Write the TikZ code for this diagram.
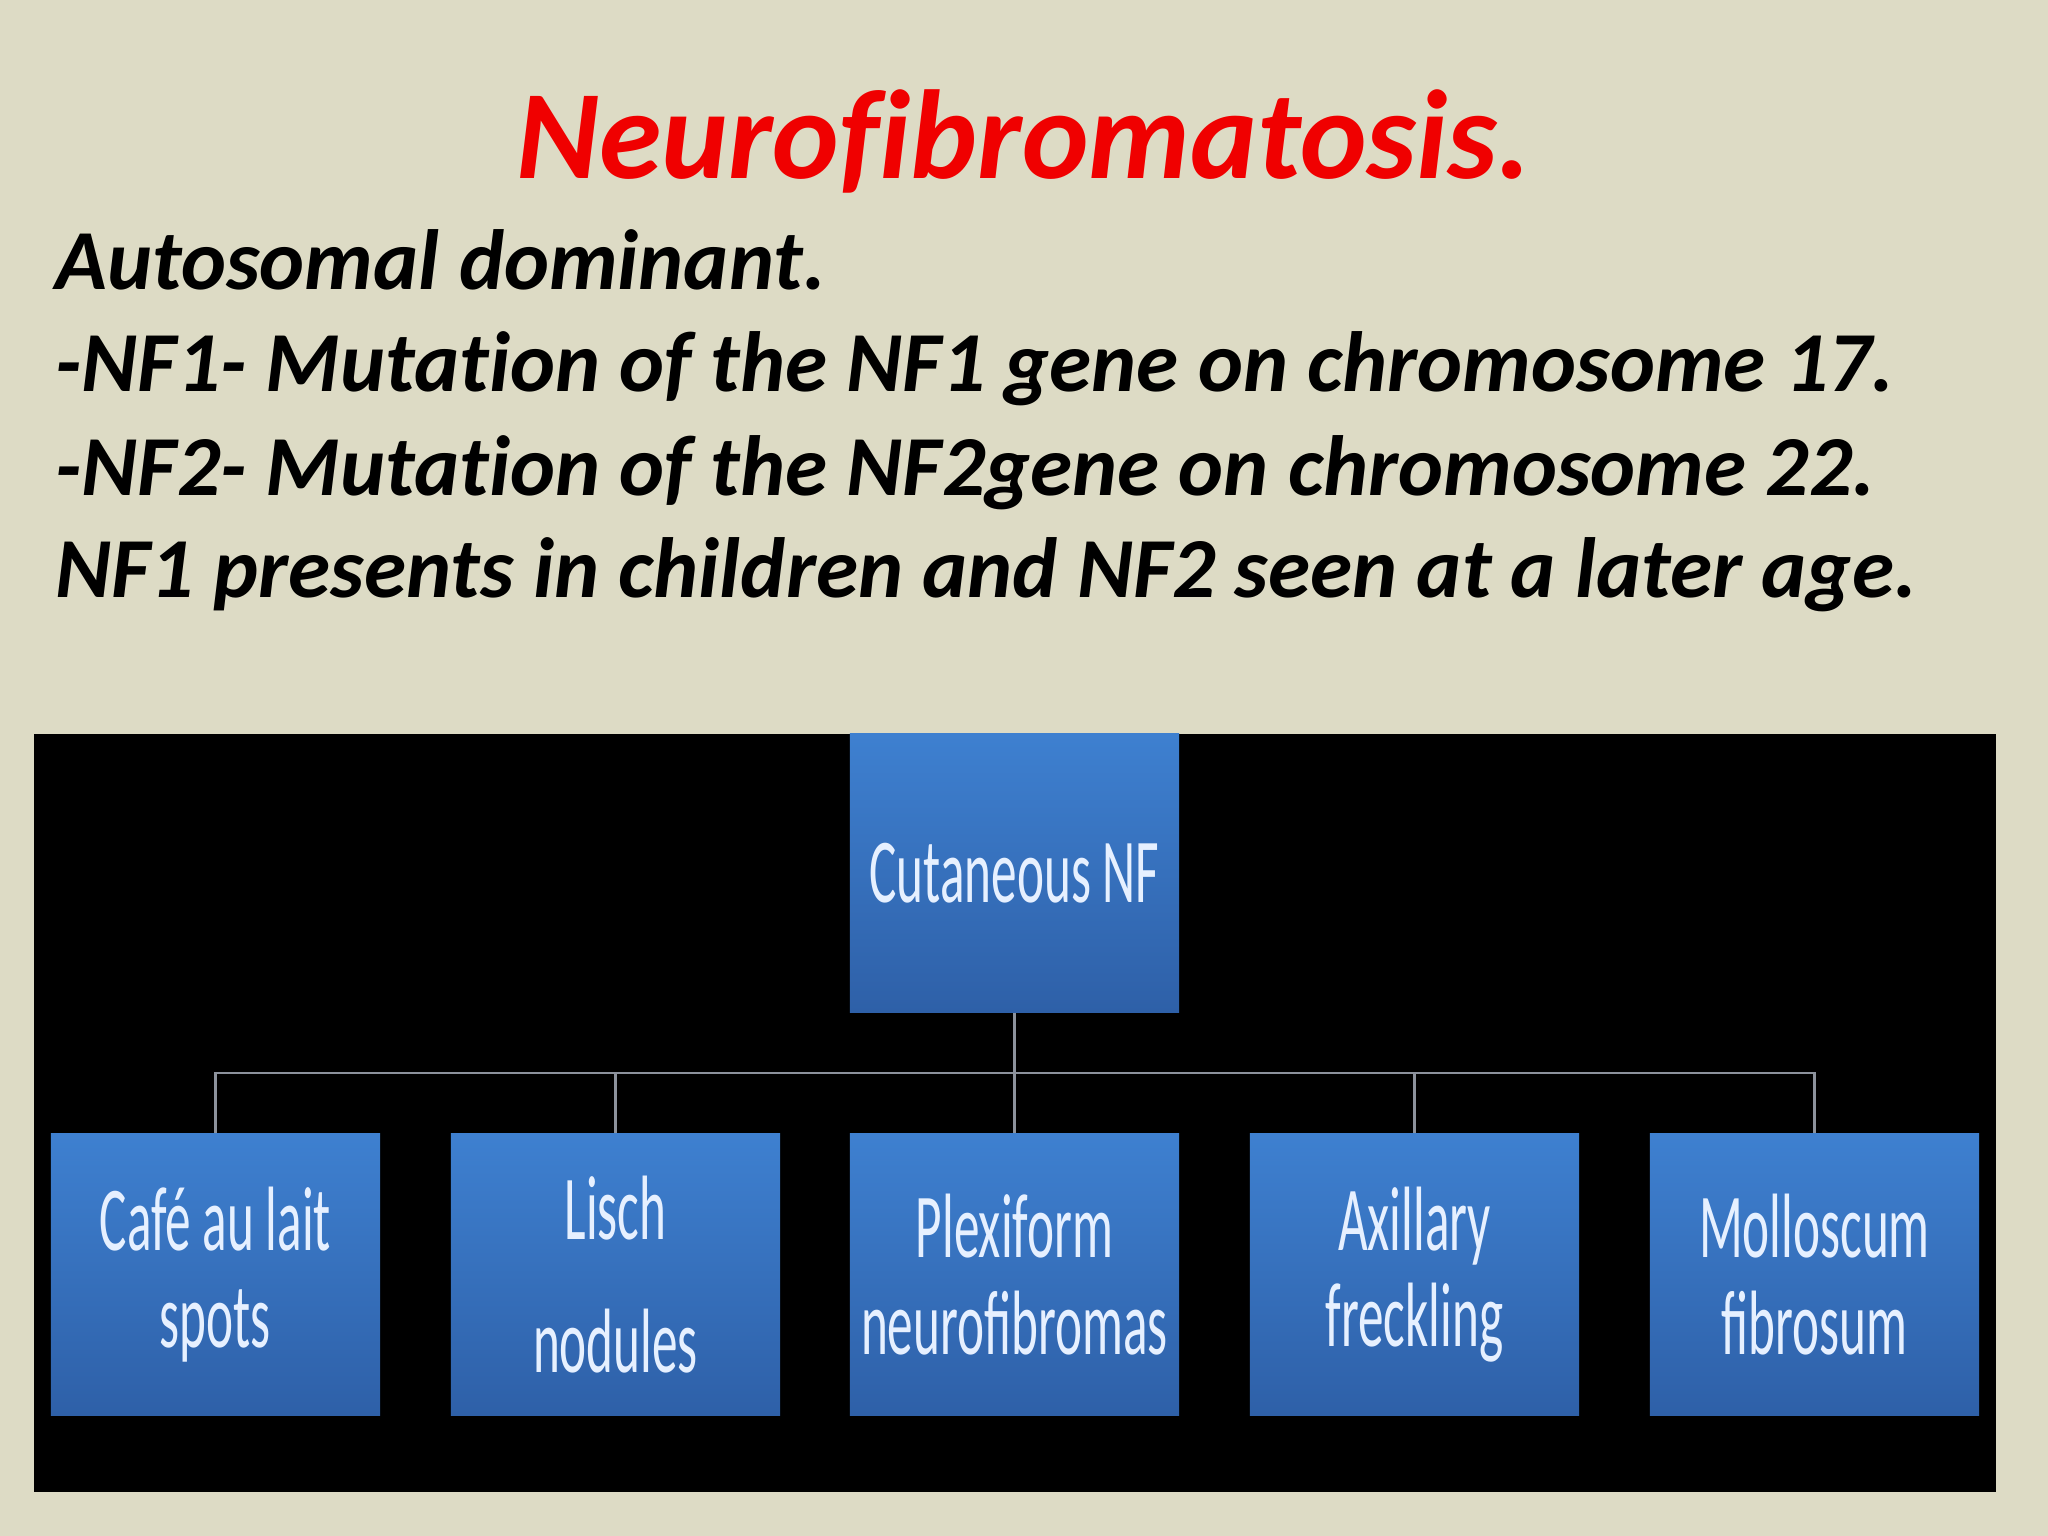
\documentclass[tikz,border=0pt]{standalone}
\usepackage{fontspec}
\setmainfont[Ligatures=NoCommon]{Carlito}
\newfontfamily\boxfont[FakeStretch=0.56]{Carlito}
\usepackage{tikz}
\usetikzlibrary{calc}

\definecolor{slidebg}{RGB}{221,219,197}
\definecolor{titlered}{RGB}{240,0,0}
\definecolor{boxtop}{RGB}{62,128,208}
\definecolor{boxbot}{RGB}{46,96,168}
\definecolor{boxtext}{RGB}{230,240,255}
\definecolor{linegray}{RGB}{140,146,156}

\tikzset{
    nfbox/.style={rectangle, inner sep=0pt, minimum width=3.29cm,
        top color=boxtop, bottom color=boxbot, text=boxtext, align=center,
        font=\boxfont\fontsize{26}{27.5}\selectfont},
    bodyline/.style={anchor=base west, inner sep=0pt,
        font=\fontsize{24.3}{28}\selectfont\bfseries\itshape},
    conn/.style={draw=linegray, line width=0.6pt}
}

\begin{document}
\begin{tikzpicture}[x=0.01cm, y=0.01cm]
    \useasboundingbox (0,0) rectangle (2048,1536);
    \fill[slidebg] (0,0) rectangle (2048,1536);

    % heading and text
    \node[anchor=base, inner sep=0pt, text=titlered,
        font=\fontsize{36}{40}\selectfont\bfseries\itshape] (title) at (1024,1357) {Neurofibromatosis.};
    \node[bodyline] (l1) at (55,1246) {Autosomal dominant.};
    \node[bodyline] (l2) at (55,1144) {-NF1- Mutation of the NF1 gene on chromosome 17.};
    \node[bodyline] (l3) at (55,1040) {-NF2- Mutation of the NF2gene on chromosome 22.};
    \node[bodyline] (l4) at (55,938) {NF1 presents in children and NF2 seen at a later age.};

    % chart panel
    \fill[black] (34,44) rectangle (1996,802);

    \node[nfbox, minimum height=2.78cm] (cut) at (1014.5,663) {Cutaneous NF};

    \node[nfbox, minimum height=2.81cm] (cafe) at (215.5,261.5) {Café au lait\\spots};
    \node[nfbox, minimum height=2.81cm] (lisch) at (615.5,261.5) {Lisch\\[10.5pt]nodules};
    \node[nfbox, minimum height=2.81cm] (plex) at (1014.5,261.5) {Plexiform\\neurofibromas};
    \node[nfbox, minimum height=2.81cm] (axil) at (1414.5,261.5) {Axillary\\freckling};
    \node[nfbox, minimum height=2.81cm] (moll) at (1814.5,261.5) {Molloscum\\fibrosum};

    \coordinate (bus) at ($(cut.south)!0.5!(plex.north)$);
    \foreach \n in {cafe,lisch,plex,axil,moll}
        \draw[conn] (cut.south) -- (bus) -| (\n.north);
\end{tikzpicture}
\end{document}
